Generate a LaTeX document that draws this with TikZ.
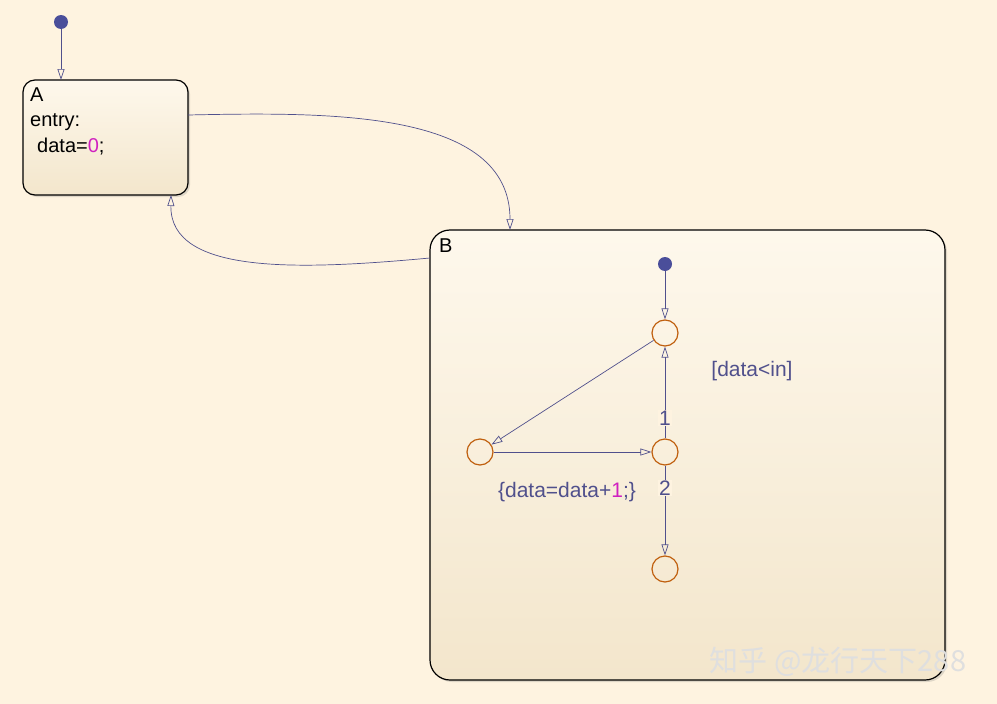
\documentclass[tikz,border=0pt]{standalone}
\usepackage{fontspec}
\setmainfont{Liberation Sans}
\newfontfamily\cjk{Noto Sans CJK SC}
\usetikzlibrary{arrows.meta,shadows}
\definecolor{bg}{HTML}{FEF3E0}
\definecolor{ln}{HTML}{50508C}
\definecolor{jn}{HTML}{C0600F}
\definecolor{mg}{HTML}{D020C0}
\definecolor{dot}{HTML}{4A4E9A}
\definecolor{sttop}{HTML}{FEF8EC}
\definecolor{stbot}{HTML}{F3E6CC}
\begin{document}
\begin{tikzpicture}[x=1pt,y=-1pt,
  tr/.style={draw=ln,line width=0.7pt,-{Triangle[open,length=11pt,width=7pt]}},
  stbox/.style={draw=black,line width=1.2pt,rounded corners=12pt,top color=sttop,bottom color=stbot,drop shadow={shadow xshift=2pt,shadow yshift=-2pt,opacity=0.25}},
  junc/.style={circle,draw=jn,line width=1.2pt,minimum size=26pt,inner sep=0pt},
  idot/.style={circle,fill=dot,minimum size=14pt,inner sep=0pt},
  lbl/.style={text=ln,font=\fontsize{21}{24}\selectfont,inner sep=1pt},
  txt/.style={font=\fontsize{20}{23}\selectfont,anchor=north west,inner sep=0pt}]
\fill[bg] (0,0) rectangle (997,704);
\useasboundingbox (0,0) rectangle (997,704);
% states
\path[stbox] (23,80) rectangle (188,195);
\path[stbox,rounded corners=20pt] (430,230) rectangle (945,680);
\coordinate (Atop) at (61,80);
\coordinate (Aright) at (188,115);
\coordinate (Abot) at (171,195);
\coordinate (Btop) at (510,230);
\coordinate (Bleft) at (430,258);
\node[txt] (Alab) at (30,88) {A};
\node[txt] (Aent) at (30,113) {entry:};
\node[txt] (Adat) at (37,138) {data=\textcolor{mg}{0};};
\node[txt] (Blab) at (439,239) {B};
% initial
\node[idot] (i0) at (61,22) {};
\draw[tr] (i0) -- (Atop);
\draw[tr] (Aright) .. controls (330,112) and (510,110) .. (Btop);
\draw[tr] (Bleft) .. controls (300,270) and (170,275) .. (Abot);
% junctions
\node[idot] (i1) at (665,264) {};
\node[junc] (j1) at (665,333) {};
\node[junc] (j2) at (480,452) {};
\node[junc] (j3) at (665,452) {};
\node[junc] (j4) at (665,569) {};
\draw[tr] (i1) -- (j1);
\draw[tr] (j1) -- (j2);
\draw[tr] (j2) -- (j3);
\draw[tr] (j3) -- node[lbl,fill=bg,pos=0.22] {1} (j1);
\draw[tr] (j3) -- node[lbl,fill=bg,pos=0.25] {2} (j4);
\node[lbl] (g) at (752,371) {[data<in]};
\node[lbl] (a) at (567,492) {\{data=data+\textcolor{mg}{1};\}};
\node[text=white!75!gray,font=\cjk\fontsize{29}{32}\selectfont] (wm) at (838,662) {知乎 @龙行天下288};
\end{tikzpicture}
\end{document}
